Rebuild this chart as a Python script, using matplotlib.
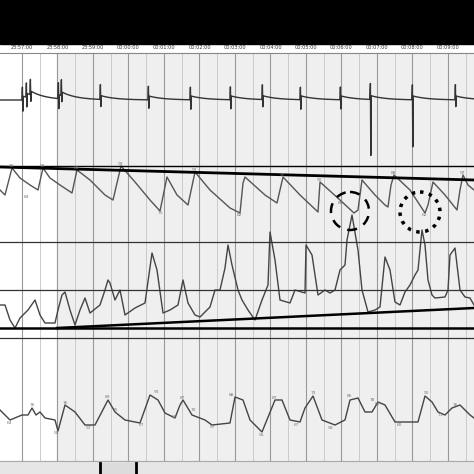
import numpy as np
import matplotlib
matplotlib.use("Agg")
import matplotlib.pyplot as plt
from matplotlib.patches import Circle, Rectangle

time_labels = ["23:57:00","23:58:00","23:59:00","00:00:00","00:01:00","00:02:00","00:03:00",
               "00:04:00","00:05:00","00:06:00","00:07:00","00:08:00","00:09:00"]
time_pos = [22,57.5,93,128.5,164,199.5,235,270.5,306,341.5,377,412.5,448]

ecg_beats = [22,26,30,58,61,100,148,190,230,262,300,340,370,412,455]
ecg_depth = [12,12,10,14,10,10,10,10,10,10,10,10,60,50,10]

art_x = [0,5,12,20,30,38,43,50,60,72,77,90,105,113,121,135,150,160,167,177,188,195,210,230,240,
         243,245,265,277,283,300,318,320,340,354,358,360,362,375,385,388,391,394,410,425,428,433,445,457,460,463,468,474]
art_y = [190,195,168,178,185,190,168,178,185,193,170,180,195,200,166,182,200,211,177,195,205,172,190,208,213,
         183,177,195,203,177,195,212,182,200,213,210,195,180,195,205,207,185,175,190,213,205,182,195,210,190,175,185,190]
art_lbl_x = [12,43,27,77,121,160,195,240,283,320,341,394,425,463]
art_lbl_y = [166,166,197,168,164,213,170,215,175,180,203,173,215,173]
art_lbl = ["98","98","84","80","99","75","91","82","97","90","86","88","62","97"]

mid_x = [0,5,10,15,20,28,35,40,45,55,58,62,65,70,75,80,85,90,100,105,108,110,115,120,125,135,145,152,157,163,170,178,
         183,188,195,200,210,215,220,225,228,232,238,242,245,248,255,262,268,270,275,280,290,295,305,306,312,318,325,330,
         335,340,345,347,352,358,362,368,375,380,385,390,395,400,405,410,415,418,420,422,425,428,432,435,445,448,450,455,
         460,465,470,474]
mid_y = [305,305,320,328,318,310,300,315,323,323,310,295,292,310,325,310,298,313,305,290,280,283,300,290,315,308,303,
         253,270,313,310,305,280,303,315,317,307,290,290,268,245,265,290,300,305,310,320,300,285,232,260,300,303,290,293,
         245,255,295,290,293,290,270,265,240,215,250,290,312,310,307,257,270,302,305,292,285,275,270,250,230,245,280,295,
         298,297,290,255,248,290,297,298,305]

bot_x = [0,10,22,28,32,36,40,45,55,58,65,75,85,95,108,115,125,140,150,158,165,175,180,183,192,205,212,230,235,243,
         250,262,275,282,290,300,305,313,322,335,345,350,358,365,372,378,385,395,405,418,425,432,438,445,452,460,470,474]
bot_y = [410,420,415,415,408,415,412,418,420,431,405,412,425,425,400,412,420,423,395,400,413,418,405,400,415,420,425,
         423,397,400,420,432,400,400,420,422,408,396,420,425,420,400,398,412,412,402,405,422,422,422,396,402,412,415,408,
         405,415,418]
bot_lbl_x = [10,32,57,65,88,108,115,142,157,175,183,193,212,232,262,275,297,313,330,350,372,378,400,427,440,455]
bot_lbl_y = [423,405,433,403,428,397,410,425,392,417,398,410,427,395,435,398,425,393,428,396,400,404,425,393,415,405]
bot_lbl = ["64","76","55","76","57","89","75","67","91","60","87","70","57","88","55","87","67","73","59","86","78","81","60","90","71","76"]

fig = plt.figure(figsize=(4.74,4.74), dpi=100)
ax = fig.add_axes([0,0,1,1])
ax.set_xlim(0,474); ax.set_ylim(474,0); ax.axis("off")

ax.add_patch(Rectangle((0,0),474,44,color="black",zorder=5))
ax.add_patch(Rectangle((0,44),474,420,color="white",zorder=0))
ax.add_patch(Rectangle((57.5,53),416.5,408,color="#efefef",zorder=0))
ax.add_patch(Rectangle((0,461),474,13,color="#e6e6e6",zorder=0))
ax.add_patch(Rectangle((100,463),36,11,facecolor="#dcdcdc",edgecolor="none",zorder=3))
ax.plot([100,100],[463,474],color="black",lw=2,zorder=4)
ax.plot([136,136],[463,474],color="black",lw=2,zorder=4)

for i,p in enumerate(time_pos):
    ax.text(p,47.5,time_labels[i],fontsize=3.6,ha="center",va="center",color="#333333")
    ax.plot([p,p],[53,461],color="#999999",lw=0.8,zorder=1)
    ax.plot([p+17.7,p+17.7],[53,461],color="#c4c4c4",lw=0.6,zorder=1)
ax.plot([0,474],[53,53],color="#888888",lw=0.8)
ax.plot([0,474],[461,461],color="#aaaaaa",lw=0.8)

xs = np.linspace(0,474,3000)
ys = np.full_like(xs,100.0)
for b,d in zip(ecg_beats,ecg_depth):
    m = xs>=b
    ys[m] += -4*np.exp(-(xs[m]-b)/15)
ecg_x=[];ecg_y=[]
prev=0
for b,d in zip(ecg_beats,ecg_depth):
    seg = (xs>=prev)&(xs<b)
    ecg_x += list(xs[seg]); ecg_y += list(ys[seg])
    base=np.interp(b,xs,ys)
    ecg_x += [b,b+0.4,b+0.8,b+1.2]; ecg_y += [base,base-12,base+d,base+2]
    prev=b+1.3
seg=xs>=prev
ecg_x += list(xs[seg]); ecg_y += list(ys[seg])
ax.plot(ecg_x,ecg_y,color="#333333",lw=1.0,zorder=4)

ax.plot(art_x,art_y,color="#555555",lw=1.0,zorder=4)
ax.plot(mid_x,mid_y,color="#444444",lw=1.0,zorder=4)
ax.plot(bot_x,bot_y,color="#444444",lw=1.0,zorder=4)
for x,y,t in zip(art_lbl_x,art_lbl_y,art_lbl):
    ax.text(x,y,t,fontsize=3.2,color="#777777",ha="center",va="center",zorder=5)
for x,y,t in zip(bot_lbl_x,bot_lbl_y,bot_lbl):
    ax.text(x,y,t,fontsize=3.2,color="#777777",ha="center",va="center",zorder=5)

ax.plot([0,474],[167,180],color="black",lw=2,zorder=4)
ax.plot([0,474],[166,166],color="black",lw=1,zorder=4)
ax.plot([0,474],[242,242],color="#333333",lw=0.9,zorder=4)
ax.plot([0,474],[290,290],color="#333333",lw=0.9,zorder=4)
ax.plot([0,474],[328,328],color="black",lw=1.8,zorder=4)
ax.plot([0,474],[338,338],color="#333333",lw=0.9,zorder=4)
ax.plot([57,474],[328,308],color="black",lw=1.8,zorder=4)

ax.add_patch(Circle((350,211),19,fill=False,lw=1.8,ls=(0,(4,3)),color="black",zorder=6))
ax.add_patch(Circle((420,212),20,fill=False,lw=2.5,ls=(0,(1,1.6)),color="black",zorder=6))
fig.savefig("out.png",dpi=100)
